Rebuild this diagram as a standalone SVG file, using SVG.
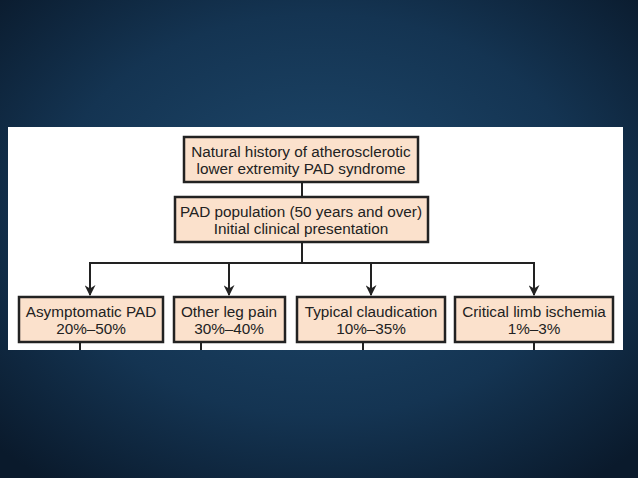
<svg xmlns="http://www.w3.org/2000/svg" width="638" height="478" viewBox="0 0 638 478">
<defs>
<radialGradient id="bg" cx="50%" cy="45%" r="70%">
<stop offset="0" stop-color="#1f4a6e"/><stop offset="0.6" stop-color="#143452"/><stop offset="1" stop-color="#0a1a2c"/>
</radialGradient>
<marker id="ar" viewBox="0 0 10 10" refX="9" refY="5" markerWidth="11" markerHeight="11" markerUnits="userSpaceOnUse" orient="auto">
<path d="M0,0 L10,5 L0,10 L3,5 Z" fill="#222"/>
</marker>
<style>
.b{fill:#fbe1cc;stroke:#222;stroke-width:2.5}
.t{font-family:"Liberation Sans",Arial,sans-serif;font-size:15.3px;fill:#222;text-anchor:middle}
.c{stroke:#222;stroke-width:2;fill:none}
</style>
</defs>
<rect width="638" height="478" fill="url(#bg)"/>
<rect x="8" y="127" width="615" height="223" fill="#fff"/>
<g id="connectors">
<line class="c" x1="302" y1="182" x2="302" y2="197"/>
<line class="c" x1="302" y1="242" x2="302" y2="263"/>
<line class="c" x1="89" y1="263" x2="535" y2="263"/>
<line class="c" x1="90" y1="263" x2="90" y2="295" marker-end="url(#ar)"/>
<line class="c" x1="229" y1="263" x2="229" y2="295" marker-end="url(#ar)"/>
<line class="c" x1="371" y1="263" x2="371" y2="295" marker-end="url(#ar)"/>
<line class="c" x1="534" y1="263" x2="534" y2="295" marker-end="url(#ar)"/>
<line class="c" x1="80" y1="342" x2="80" y2="350"/>
<line class="c" x1="201" y1="342" x2="201" y2="350"/>
<line class="c" x1="363" y1="342" x2="363" y2="350"/>
<line class="c" x1="534" y1="342" x2="534" y2="350"/>
</g>
<g id="n1"><rect class="b" x="184" y="137" width="234" height="45"/>
<text class="t" x="301" y="157">Natural history of atherosclerotic</text>
<text class="t" x="301" y="174">lower extremity PAD syndrome</text></g>
<g id="n2"><rect class="b" x="175" y="197" width="253" height="45"/>
<text class="t" x="301" y="217">PAD population (50 years and over)</text>
<text class="t" x="301" y="234">Initial clinical presentation</text></g>
<g id="n3"><rect class="b" x="19" y="297" width="144" height="45"/>
<text class="t" x="91" y="317">Asymptomatic PAD</text>
<text class="t" x="91" y="334">20%–50%</text></g>
<g id="n4"><rect class="b" x="174" y="297" width="111" height="45"/>
<text class="t" x="229" y="317">Other leg pain</text>
<text class="t" x="229" y="334">30%–40%</text></g>
<g id="n5"><rect class="b" x="297" y="297" width="148" height="45"/>
<text class="t" x="371" y="317">Typical claudication</text>
<text class="t" x="371" y="334">10%–35%</text></g>
<g id="n6"><rect class="b" x="455" y="297" width="158" height="45"/>
<text class="t" x="534" y="317">Critical limb ischemia</text>
<text class="t" x="534" y="334">1%–3%</text></g>
</svg>
